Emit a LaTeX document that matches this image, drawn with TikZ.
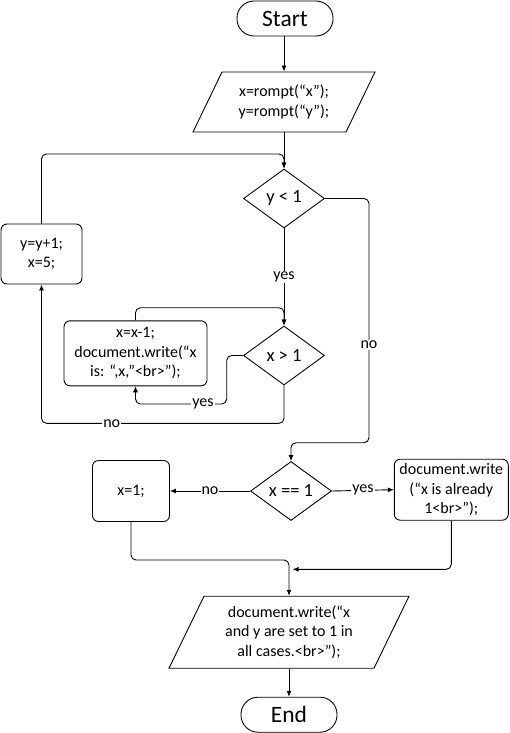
\documentclass[tikz,border=0pt]{standalone}
\usepackage{fontspec}
\setmainfont{Carlito}
\usetikzlibrary{shapes.geometric,arrows.meta,calc}
\begin{document}
\begin{tikzpicture}[x=1pt,y=-1pt,
  line width=0.9pt,
  body/.style={font=\fontsize{16}{19.5}\selectfont},
  term/.style={draw, rounded corners=17pt, minimum width=96pt, minimum height=35pt, inner sep=0pt, font=\fontsize{23.5}{26}\selectfont},
  proc/.style={draw, rounded corners=6pt, inner sep=1pt, align=center, body},
  dec/.style={draw, diamond, inner sep=0pt, minimum width=81pt, minimum height=59pt, font=\fontsize{18.5}{22}\selectfont},
  io/.style={inner sep=0pt, align=center, body},
  lbl/.style={fill=white, inner sep=1pt, body},
  arr/.style={-{Latex[length=6pt,width=5pt]}},
  conn/.style={rounded corners=5pt}]
\useasboundingbox (0,0) rectangle (509,733);
% nodes
\node[term] (start) at (285,18.5) {Start};
\node[io, minimum width=124pt, minimum height=60pt] (in1) at (284,102) {x=rompt(“x”);\\y=rompt(“y”);};
\draw ($(in1.center)+(-62,-30)$) -- ($(in1.center)+(91,-30)$) -- ($(in1.center)+(62,30)$) -- ($(in1.center)+(-91,30)$) -- cycle;
\node[dec] (d1) at (284,198.5) {y < 1};
\node[proc, minimum width=81pt, minimum height=60pt] (inc) at (41.5,254) {y=y+1;\\x=5;};
\node[dec] (d2) at (284,355.5) {x > 1};
\node[proc, minimum width=143pt, minimum height=65pt] (decx) at (135.5,353.3) {x=x-1;\\document.write(“x\\is: “,x,”<br>”);};
\node[dec] (d3) at (291,491) {x == 1};
\node[proc, minimum width=77pt, minimum height=61pt] (x1) at (131,491) {x=1;};
\node[proc, minimum width=114pt, minimum height=61pt] (already) at (451.3,489.7) {document.write\\(“x is already\\1<br>”);};
\node[io, minimum width=171pt, minimum height=72pt] (out) at (289,632.2) {document.write(“x\\and y are set to 1 in\\all cases.<br>”);};
\draw ($(out.center)+(-85,-36)$) -- ($(out.center)+(120,-36)$) -- ($(out.center)+(85,36)$) -- ($(out.center)+(-120,36)$) -- cycle;
\node[term] (end) at (289,714.7) {End};
% coordinates
\coordinate (j1) at (284,154);
\coordinate (c1) at (369,442.7);
\coordinate (j4) at (284,307.7);
\coordinate (c2) at (226.7,404);
\coordinate (c3) at (41.5,423.3);
\coordinate (j2) at (289,560);
\coordinate (j3) at (292.5,569.3);
% connectors
\draw[arr] (start.south -| in1.north) -- (in1.north);
\draw[arr] (in1.center |- 0,132) -- (d1.north);
\draw[arr, conn] (inc.north) |- (j1) -- (d1.north);
\draw[arr, conn] (d1.east) -| (c1) -| (d3.north);
\node[lbl] (lno1) at (369,345) {no};
\draw[arr] (d1.south) -- node[lbl] (lyes1) {yes} (d2.north);
\draw[arr, conn] (decx.north) |- (j4) -- (d2.north);
\draw[arr, conn] (d2.west) -| (c2) -| (decx.south);
\node[lbl] (lyes2) at (203,404) {yes};
\draw[arr, conn] (d2.south) |- (c3) -- (inc.south);
\node[lbl] (lno2) at (111.7,423.3) {no};
\draw[arr] (d3.west) -- node[lbl] (lno3) {no} (x1.east);
\draw[arr] (d3.east) -- node[lbl] (lyes3) {yes} (already.west);
\draw[arr, conn] (x1.south) |- (j2) -- (out.north);
\draw[arr, conn] (already.south) |- (j3);
\draw[arr] (out.south) -- (end.north);
\end{tikzpicture}
\end{document}
